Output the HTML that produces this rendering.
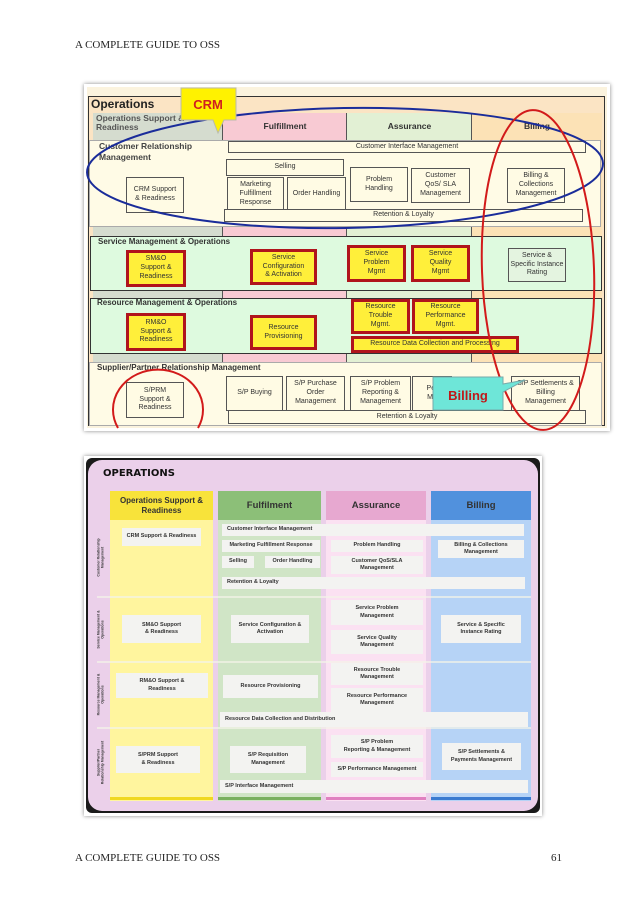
<!DOCTYPE html>
<html><head><meta charset="utf-8"><style>
*{margin:0;padding:0;box-sizing:border-box}
body{width:638px;height:903px;background:#fff;position:relative;overflow:hidden;font-family:"Liberation Sans",Arial,sans-serif}
.a{position:absolute}
.t{position:absolute;font-family:"Liberation Serif",serif;font-size:11px;color:#222}
.b{position:absolute;display:flex;align-items:center;justify-content:center;text-align:center;font-size:7px;line-height:1.25;color:#333;border:1px solid #555;background:#fffbe4}
.y{background:#ffef3a;border:3px solid #b0141c;color:#333}
.w{position:absolute;display:flex;align-items:center;justify-content:center;text-align:center;font-size:5.5px;line-height:1.3;font-weight:bold;color:#333;background:#f3f3f1}
.l{justify-content:flex-start;padding-left:5px}
.h{position:absolute;display:flex;align-items:center;justify-content:center;text-align:center;font-weight:bold;color:#333}
.v{position:absolute;font-size:3.5px;line-height:4px;font-weight:bold;color:#333;transform:rotate(-90deg);text-align:center;height:9px;display:flex;align-items:center;justify-content:center}
</style></head><body>
<div class="t" style="left:75px;top:39px">A COMPLETE GUIDE TO OSS</div>
<div class="t" style="left:75px;top:852px">A COMPLETE GUIDE TO OSS</div>
<div class="t" style="left:551px;top:852px">61</div>

<!-- TOP DIAGRAM -->
<div class="a" style="left:84px;top:84px;width:526px;height:347px;background:#fff;box-shadow:0 0 4px #888"></div>
<div class="a" style="left:87px;top:87px;width:520px;height:341px;background:#fbf3de"></div>
<div class="a" style="left:88px;top:96px;width:517px;height:330px;background:#fbe4c4;border:1px solid #333"></div>
<div class="h" style="left:91px;top:97px;font-size:12px;color:#222">Operations</div>
<div class="a" style="left:93px;top:113px;width:130px;height:313px;background:#d5dccf"></div>
<div class="a" style="left:223px;top:113px;width:124px;height:313px;background:#f8cad3"></div>
<div class="a" style="left:347px;top:113px;width:125px;height:313px;background:#e2f0d4"></div>
<div class="a" style="left:472px;top:113px;width:130px;height:313px;background:#fce2b6"></div>
<div class="a" style="left:222px;top:113px;width:1px;height:313px;background:#555"></div>
<div class="a" style="left:346px;top:113px;width:1px;height:313px;background:#555"></div>
<div class="a" style="left:471px;top:113px;width:1px;height:313px;background:#555"></div>
<div class="h" style="left:96px;top:114px;font-size:8.5px;color:#555;text-align:left;line-height:1.1">Operations Support &amp;<br>Readiness</div>
<div class="h" style="left:223px;top:113px;width:124px;height:26px;font-size:8.5px">Fulfillment</div>
<div class="h" style="left:347px;top:113px;width:125px;height:26px;font-size:8.5px">Assurance</div>
<div class="h" style="left:472px;top:113px;width:130px;height:26px;font-size:8.5px">Billing</div>

<div class="a" style="left:89px;top:140px;width:512px;height:87px;background:#fffbe6;border:1px solid #aaa"></div>
<div class="h" style="left:99px;top:141px;font-size:8.5px;text-align:left;line-height:1.35;color:#444">Customer Relationship<br>Management</div>
<div class="b" style="left:228px;top:141px;width:358px;height:12px">Customer Interface Management</div>
<div class="b" style="left:226px;top:159px;width:118px;height:17px">Selling</div>
<div class="b" style="left:227px;top:177px;width:57px;height:35px">Marketing<br>Fulfillment<br>Response</div>
<div class="b" style="left:287px;top:177px;width:59px;height:35px">Order Handling</div>
<div class="b" style="left:350px;top:167px;width:58px;height:35px">Problem<br>Handling</div>
<div class="b" style="left:411px;top:168px;width:59px;height:35px">Customer<br>QoS/ SLA<br>Management</div>
<div class="b" style="left:507px;top:168px;width:58px;height:35px">Billing &amp;<br>Collections<br>Management</div>
<div class="b" style="left:126px;top:177px;width:58px;height:36px">CRM Support<br>&amp; Readiness</div>
<div class="b" style="left:224px;top:209px;width:359px;height:13px">Retention &amp; Loyalty</div>

<div class="a" style="left:90px;top:236px;width:512px;height:55px;background:#defadf;border:1.5px solid #333"></div>
<div class="h" style="left:98px;top:237px;font-size:8px;color:#333">Service Management &amp; Operations</div>
<div class="b y" style="left:126px;top:250px;width:60px;height:37px">SM&amp;O<br>Support &amp;<br>Readiness</div>
<div class="b y" style="left:250px;top:249px;width:67px;height:36px">Service<br>Configuration<br>&amp; Activation</div>
<div class="b y" style="left:347px;top:245px;width:59px;height:37px">Service<br>Problem<br>Mgmt</div>
<div class="b y" style="left:411px;top:245px;width:59px;height:37px">Service<br>Quality<br>Mgmt</div>
<div class="b" style="left:508px;top:248px;width:58px;height:34px;background:#e4f4e0">Service &amp;<br>Specific Instance<br>Rating</div>

<div class="a" style="left:90px;top:298px;width:512px;height:56px;background:#defadf;border:1.5px solid #333"></div>
<div class="h" style="left:97px;top:298px;font-size:8px;color:#333">Resource Management &amp; Operations</div>
<div class="b y" style="left:126px;top:313px;width:60px;height:38px">RM&amp;O<br>Support &amp;<br>Readiness</div>
<div class="b y" style="left:250px;top:315px;width:67px;height:35px">Resource<br>Provisioning</div>
<div class="b y" style="left:351px;top:299px;width:59px;height:35px">Resource<br>Trouble<br>Mgmt.</div>
<div class="b y" style="left:412px;top:299px;width:67px;height:35px">Resource<br>Performance<br>Mgmt.</div>
<div class="b y" style="left:351px;top:336px;width:168px;height:17px">Resource Data Collection and Processing</div>

<div class="a" style="left:89px;top:362px;width:513px;height:64px;background:#fffbe6;border:1px solid #aaa"></div>
<div class="h" style="left:97px;top:363px;font-size:8px;color:#333">Supplier/Partner Relationship Management</div>
<div class="b" style="left:126px;top:382px;width:58px;height:36px">S/PRM<br>Support &amp;<br>Readiness</div>
<div class="b" style="left:226px;top:376px;width:57px;height:35px">S/P Buying</div>
<div class="b" style="left:286px;top:376px;width:59px;height:35px">S/P Purchase<br>Order<br>Management</div>
<div class="b" style="left:350px;top:376px;width:61px;height:35px">S/P Problem<br>Reporting &amp;<br>Management</div>
<div class="b" style="left:412px;top:376px;width:40px;height:35px">Per<br>Ma</div>
<div class="b" style="left:511px;top:376px;width:69px;height:35px">S/P Settlements &amp;<br>Billing<br>Management</div>
<div class="b" style="left:228px;top:410px;width:358px;height:14px">Retention &amp; Loyalty</div>

<svg class="a" style="left:0;top:0" width="638" height="440">
<ellipse cx="345" cy="168" rx="258" ry="60" transform="rotate(-1 345 168)" fill="none" stroke="#1a2c9a" stroke-width="2"/>
<ellipse cx="538" cy="270" rx="56" ry="160" transform="rotate(-2 538 270)" fill="none" stroke="#d21a1a" stroke-width="2"/>
<path d="M118 428 A45 40 0 1 1 198 428" fill="none" stroke="#d21a1a" stroke-width="2"/>
<path d="M181 88 H236 V120 H224 L218 133 L213 120 H181 Z" fill="#fff200" stroke="#bba" stroke-width="1"/>
<text x="208" y="109" text-anchor="middle" font-family="Liberation Sans" font-weight="bold" font-size="13" fill="#d02020">CRM</text>
<path d="M433 377 H503 V384 L525 380 L503 392 V410 H433 Z" fill="#6ee6d8" stroke="#7aa" stroke-width="1"/>
<text x="468" y="400" text-anchor="middle" font-family="Liberation Sans" font-weight="bold" font-size="13" fill="#c01818">Billing</text>
</svg>

<!-- BOTTOM DIAGRAM -->
<div class="a" style="left:84px;top:456px;width:458px;height:360px;background:#fff;box-shadow:0 0 4px #888"></div>
<div class="a" style="left:86px;top:458px;width:454px;height:355px;background:#1a1a1a;border-radius:6px"></div>
<div class="a" style="left:88px;top:460px;width:450px;height:351px;background:#ebd0ea;border-radius:14px"></div>
<div class="h" style="left:103px;top:468px;font-size:10px;color:#111;font-family:'DejaVu Sans',sans-serif">OPERATIONS</div>
<div class="a" style="left:110px;top:520px;width:103px;height:281px;background:#fff59e"></div>
<div class="a" style="left:218px;top:520px;width:103px;height:281px;background:#d0e5c6"></div>
<div class="a" style="left:326px;top:520px;width:100px;height:281px;background:#fbe1f2"></div>
<div class="a" style="left:431px;top:520px;width:100px;height:281px;background:#b6d3f6"></div>
<div class="h" style="left:110px;top:491px;width:103px;height:29px;background:#f8e33a;font-size:8px;line-height:1.2">Operations Support &amp;<br>Readiness</div>
<div class="h" style="left:218px;top:491px;width:103px;height:29px;background:#8cbf78;font-size:9.5px">Fulfilment</div>
<div class="h" style="left:326px;top:491px;width:100px;height:29px;background:#e7a8d0;font-size:9.5px">Assurance</div>
<div class="h" style="left:431px;top:491px;width:100px;height:29px;background:#5191dd;font-size:9.5px">Billing</div>
<div class="a" style="left:97px;top:596px;width:434px;height:2px;background:#f4f4e8;opacity:.7"></div>
<div class="a" style="left:97px;top:661px;width:434px;height:2px;background:#f4f4e8;opacity:.7"></div>
<div class="a" style="left:97px;top:727px;width:434px;height:2px;background:#f4f4e8;opacity:.7"></div>
<div class="a" style="left:110px;top:797px;width:103px;height:3px;background:#f0d820"></div>
<div class="a" style="left:218px;top:797px;width:103px;height:3px;background:#7ab060"></div>
<div class="a" style="left:326px;top:797px;width:100px;height:3px;background:#e080c0"></div>
<div class="a" style="left:431px;top:797px;width:100px;height:3px;background:#3a7ad0"></div>
<div class="v" style="left:74px;top:553px;width:52px">Customer Relationship Management</div>
<div class="v" style="left:78px;top:625px;width:44px">Service Management &amp; Operations</div>
<div class="v" style="left:78px;top:690px;width:44px">Resource Management &amp; Operations</div>
<div class="v" style="left:76px;top:758px;width:48px">Supplier/Partner Relationship Management</div>

<div class="w" style="left:122px;top:528px;width:79px;height:18px">CRM Support &amp; Readiness</div>
<div class="w l" style="left:222px;top:524px;width:302px;height:12px">Customer Interface Management</div>
<div class="w" style="left:222px;top:540px;width:98px;height:12px">Marketing Fulfillment Response</div>
<div class="w" style="left:222px;top:556px;width:32px;height:12px">Selling</div>
<div class="w" style="left:265px;top:556px;width:55px;height:12px">Order Handling</div>
<div class="w l" style="left:222px;top:577px;width:303px;height:12px">Retention &amp; Loyalty</div>
<div class="w" style="left:331px;top:540px;width:92px;height:12px">Problem Handling</div>
<div class="w" style="left:331px;top:556px;width:92px;height:18px">Customer QoS/SLA<br>Management</div>
<div class="w" style="left:438px;top:540px;width:86px;height:18px">Billing &amp; Collections<br>Management</div>

<div class="w" style="left:122px;top:615px;width:79px;height:28px">SM&amp;O Support<br>&amp; Readiness</div>
<div class="w" style="left:231px;top:615px;width:78px;height:28px">Service Configuration &amp;<br>Activation</div>
<div class="w" style="left:331px;top:600px;width:92px;height:25px">Service Problem<br>Management</div>
<div class="w" style="left:331px;top:630px;width:92px;height:24px">Service Quality<br>Management</div>
<div class="w" style="left:441px;top:615px;width:80px;height:28px">Service &amp; Specific<br>Instance Rating</div>

<div class="w" style="left:116px;top:673px;width:92px;height:25px">RM&amp;O Support &amp;<br>Readiness</div>
<div class="w" style="left:223px;top:675px;width:95px;height:23px">Resource Provisioning</div>
<div class="w" style="left:331px;top:663px;width:92px;height:22px">Resource Trouble<br>Management</div>
<div class="w" style="left:331px;top:688px;width:92px;height:24px">Resource Performance<br>Management</div>
<div class="w l" style="left:220px;top:712px;width:308px;height:15px">Resource Data Collection and Distribution</div>

<div class="w" style="left:116px;top:746px;width:84px;height:27px">S/PRM Support<br>&amp; Readiness</div>
<div class="w" style="left:230px;top:746px;width:76px;height:27px">S/P Requisition<br>Management</div>
<div class="w" style="left:331px;top:735px;width:92px;height:23px">S/P Problem<br>Reporting &amp; Management</div>
<div class="w" style="left:331px;top:762px;width:92px;height:15px">S/P Performance Management</div>
<div class="w" style="left:442px;top:743px;width:79px;height:27px">S/P Settlements &amp;<br>Payments Management</div>
<div class="w l" style="left:220px;top:780px;width:308px;height:13px">S/P Interface Management</div>
</body></html>
